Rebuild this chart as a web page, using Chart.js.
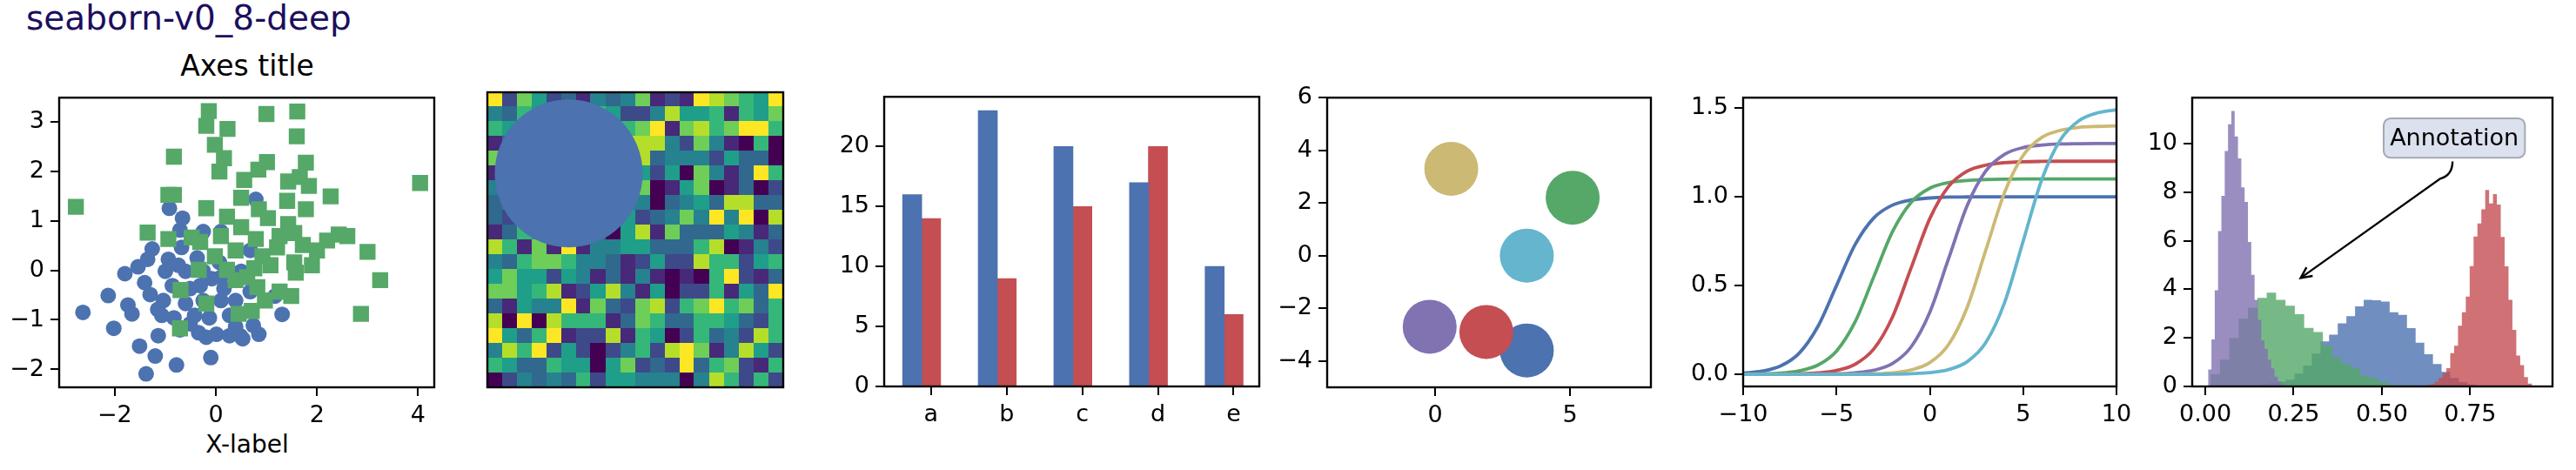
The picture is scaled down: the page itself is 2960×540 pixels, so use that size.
<!DOCTYPE html>
<html>
<head>
<meta charset="utf-8">
<script src="https://cdn.jsdelivr.net/npm/chart.js@4"></script>
<style>
  body { margin: 0; background: #fff; width: 2960px; height: 540px; position: relative; overflow: hidden; font-family: "DejaVu Sans", sans-serif; }
  canvas { position: absolute; }
  .txt { position: absolute; white-space: nowrap; color: #000; }
</style>
</head>
<body>
<div class="txt" style="left:30px;top:-2px;font-size:39px;color:#1b0f5e">seaborn-v0_8-deep</div>
<div class="txt" style="left:284px;top:56px;font-size:33px;transform:translateX(-50%)">Axes title</div>
<div class="txt" style="left:284px;top:494px;font-size:28px;transform:translateX(-50%)">X-label</div>
<canvas id="c1"></canvas>
<canvas id="c2"></canvas>
<canvas id="c3"></canvas>
<canvas id="c4"></canvas>
<canvas id="c5"></canvas>
<canvas id="c6"></canvas>
<script>
// ===== DATOS =====
// scatter
const blueX = [-2.63,-2.13,-2.02,-1.80,-1.54,-1.35,-1.26,-1.41,-1.74,-1.66,-1.51,-1.38,-1.20,-1.14,-1.30,-1.04,-0.94,-1.0,-0.92,-0.66,-0.71,-0.68,-0.78,-0.71,-1.07,-0.86,-0.60,-0.51,-0.37,-0.25,-0.31,-0.42,-0.34,-0.19,-0.10,0.01,-0.08,0.07,0.10,0.10,0.27,0.39,0.48,0.74,0.85,0.39,0.68,0.79,0.68,0.50,1.17,1.31,-0.60,-0.25,-0.13,-0.51,-0.83,-1.15,0.16,0.27,0.53,-0.25,-0.74,0.10];
const blueY = [-0.85,-0.51,-1.17,-0.07,0.07,0.22,0.43,-0.25,-0.70,-0.88,-1.53,-2.09,-1.73,-1.32,-0.49,-0.61,0.22,-0.02,1.25,1.05,0.81,0.46,-1.91,-1.20,-0.91,-0.31,-0.02,-0.37,0.25,0.78,-0.31,-0.91,-1.26,-1.35,-1.76,-1.29,-0.17,0.16,0.78,-0.61,-0.91,-1.14,-1.32,-1.11,-1.29,-0.61,-0.43,1.43,0.40,-0.02,-0.52,-0.89,-0.67,-0.61,-0.96,-1.08,-0.96,-0.79,-0.37,-1.32,-1.38,-0.02,0.10,-0.14];
const greenX = [-2.77,-1.35,-0.94,-0.83,-0.94,-0.83,-0.19,-0.14,-0.19,0.23,-0.02,0.16,0.07,1.0,1.61,1.6,1.78,1.01,0.84,0.56,1.43,1.66,1.84,4.04,2.27,0.50,1.41,1.78,0.85,0.22,1.03,1.43,0.50,-0.48,-0.31,0.10,0.79,1.26,1.55,2.20,2.43,2.60,3.00,1.72,2.0,1.21,0.92,0.39,-0.02,1.55,1.90,1.58,0.76,0.22,-0.34,0.39,3.25,0.82,1.26,1.49,0.97,-0.70,-0.19,0.71,0.45,2.87,-0.71,0.62,1.08];
const greenY = [1.28,0.76,0.63,2.29,1.52,1.52,1.25,3.21,2.91,2.85,2.53,2.26,1.99,3.15,3.2,2.70,2.17,2.18,2.03,1.82,1.79,1.88,1.70,1.76,1.49,1.46,1.40,1.23,1.23,1.08,1.05,0.93,0.87,0.66,0.57,0.69,0.63,0.69,0.75,0.60,0.72,0.69,0.37,0.51,0.40,0.46,0.28,0.40,0.28,0.16,0.10,-0.05,0.04,0.01,0.01,-0.20,-0.20,-0.34,-0.43,-0.52,-0.61,-0.40,-0.67,-0.82,-0.88,-0.88,-1.17,-0.14,0.10];

// imagen 20x20 (niveles 0-9 de viridis)
const imgRows = [
  [9,2,7,5,2,3,1,4,3,4,7,1,2,1,9,8,7,6,5,9],
  [4,3,6,5,6,5,4,6,5,2,2,4,8,5,5,6,1,6,5,7],
  [6,5,5,4,6,7,5,6,5,6,7,9,1,7,8,6,7,9,9,6],
  [1,3,5,6,4,7,3,5,6,8,8,8,4,2,7,4,1,0,6,0],
  [7,5,4,3,6,5,4,7,6,5,8,3,4,4,4,2,5,3,3,0],
  [1,4,6,3,5,2,6,4,5,6,5,2,5,0,7,4,1,3,9,6],
  [4,5,3,7,4,6,5,3,6,4,7,0,1,5,7,0,1,3,0,2],
  [3,4,6,5,2,7,4,6,5,4,4,0,3,4,5,3,8,8,3,3],
  [3,2,5,4,6,3,5,7,4,5,2,3,4,7,4,9,4,9,0,8],
  [1,3,6,5,4,6,4,3,0,5,8,1,7,3,3,3,5,4,1,3],
  [8,6,1,7,1,9,1,4,4,5,5,3,3,3,6,8,0,1,4,2],
  [4,3,6,7,7,6,4,4,3,1,2,5,2,2,8,6,6,2,5,6],
  [5,7,5,5,2,5,4,1,3,1,4,1,0,1,0,6,9,2,1,3],
  [7,7,5,6,8,1,2,5,8,4,1,5,0,2,2,6,1,5,3,9],
  [3,1,5,4,4,9,1,7,3,2,7,8,2,6,7,9,6,7,3,6],
  [8,0,9,0,8,6,6,6,1,3,7,6,3,3,6,6,5,3,2,6],
  [9,5,3,6,9,1,2,2,8,1,6,5,0,2,6,3,4,2,8,6],
  [4,8,6,9,2,5,2,0,2,4,6,2,8,9,7,1,4,8,5,2],
  [6,5,3,3,6,5,5,0,5,7,2,3,2,9,3,6,7,2,1,6],
  [0,2,4,3,4,3,6,2,5,5,4,4,4,0,4,8,6,2,6,2]
];
const imgCircle = { x: 5, y: 5, r: 5 };

// barras
const barCats = ['a', 'b', 'c', 'd', 'e'];
const barPos = [0, 1, 2, 3, 4];
const bars1 = [16, 23, 20, 17, 10];
const bars2 = [14, 9, 15, 20, 6];

// círculos
const circX = [3.4, 5.1, 1.9, -0.2, 0.6, 3.4];
const circY = [-3.6, 2.2, -2.9, -2.7, 3.3, 0.0];

// curvas
const lineX = [-10,-9,-8,-7,-6,-5,-4,-3,-2,-1,0,1,2,3,4,5,6,7,8,9,10];
const line1 = [0.007,0.018,0.047,0.119,0.269,0.5,0.731,0.881,0.953,0.982,0.993,0.998,0.999,1,1,1,1,1,1,1,1];
const line2 = [0.001,0.003,0.007,0.020,0.052,0.131,0.296,0.55,0.804,0.969,1.048,1.080,1.092,1.097,1.099,1.1,1.1,1.1,1.1,1.1,1.1];
const line3 = [0,0,0.001,0.003,0.008,0.022,0.057,0.143,0.323,0.6,0.877,1.057,1.144,1.178,1.192,1.197,1.199,1.2,1.2,1.2,1.2];
const line4 = [0,0,0,0,0.001,0.003,0.009,0.023,0.061,0.155,0.35,0.65,0.95,1.145,1.239,1.277,1.291,1.297,1.299,1.3,1.3];
const line5 = [0,0,0,0,0,0,0.001,0.003,0.009,0.025,0.066,0.167,0.377,0.7,1.023,1.233,1.334,1.374,1.391,1.396,1.399];
const line6 = [0,0,0,0,0,0,0,0,0.001,0.004,0.010,0.027,0.071,0.179,0.403,0.75,1.097,1.321,1.429,1.473,1.49];

// histogramas (bordes de bins y alturas)
const histBlueEdges = [0.13,0.1545,0.179,0.2035,0.228,0.2525,0.277,0.3015,0.326,0.3505,0.375,0.3995,0.424,0.4485,0.473,0.4975,0.522,0.5465,0.571,0.5955,0.62,0.6445,0.669,0.6935,0.718,0.7425,0.767,0.7915,0.816];
const histBlue = [0.02,0.05,0.1,0.15,0.2,0.28,0.53,0.86,1.35,1.86,2.13,2.6,2.9,3.3,3.57,3.55,3.5,3.06,2.95,2.4,1.8,1.33,0.92,0.6,0.35,0.18,0.08,0.03];
const histGreenEdges = [0.015,0.0415,0.068,0.0945,0.121,0.1475,0.174,0.2005,0.227,0.2535,0.28,0.3065,0.333,0.3595,0.386,0.4125,0.439,0.4655,0.492,0.5185,0.545,0.5715,0.598];
const histGreen = [0.1,0.5,1.1,2.0,2.8,3.25,3.65,3.86,3.57,3.33,2.98,2.41,2.24,1.68,1.2,0.92,0.74,0.45,0.33,0.18,0.07,0.02];
const histRedEdges = [0.6275,0.6385,0.6495,0.6605,0.6715,0.6825,0.6935,0.7045,0.7155,0.7265,0.7375,0.7485,0.7595,0.7705,0.7815,0.7925,0.8035,0.8145,0.8255,0.8365,0.8475,0.8585,0.8695,0.8805,0.8915,0.9025,0.9135,0.9245,0.9355];
const histRed = [0.03,0.06,0.1,0.2,0.35,0.55,0.75,1.37,1.68,2.5,3.06,3.7,4.96,6.18,6.72,7.3,8.1,7.54,7.93,7.5,6.16,4.95,3.57,2.33,1.27,0.88,0.39,0.12];
const histPurpleEdges = [0.008,0.0174,0.0268,0.0362,0.0456,0.055,0.0644,0.0738,0.0832,0.0926,0.102,0.1114,0.1208,0.1302,0.1396,0.149,0.1584,0.1678,0.1772,0.1866,0.196,0.2054,0.2148,0.2242,0.2336,0.243];
const histPurple = [0.07,0.7,1.94,3.96,6.4,7.85,9.7,10.8,11.35,10.3,9.4,8.2,7.6,5.95,4.6,3.57,2.74,1.9,1.55,1.1,0.74,0.4,0.2,0.1,0.04];

// ===== ESTILO =====
const C = { blue: '#4C72B0', green: '#55A868', red: '#C44E52', purple: '#8172B2', yellow: '#CCB974', cyan: '#64B5CD' };
const VIRIDIS = ['#440154','#482878','#3e4989','#31688e','#26828e','#1f9e89','#35b779','#6ece58','#b5de2b','#fde725'];
const FONT = '"DejaVu Sans", sans-serif';
const TICK_SIZE = 27;
const minus = v => String(v).replace('-', '\u2212');

Chart.register({
    id: 'frame',
    afterDatasetsDraw(chart) {
        const a = chart.chartArea, ctx = chart.ctx;
        ctx.save();
        ctx.strokeStyle = '#000';
        ctx.lineWidth = 2.4;
        ctx.strokeRect(a.left, a.top, a.right - a.left, a.bottom - a.top);
        ctx.restore();
    }
});

function axis(min, max, ticks, fmt, extra) {
    return Object.assign({
        type: 'linear', min, max, offset: false,
        afterBuildTicks: s => { s.ticks = ticks.map(v => ({ value: v })); },
        ticks: { color: '#000', font: { family: FONT, size: TICK_SIZE }, padding: 7, maxRotation: 0, autoSkip: false, callback: fmt },
        grid: { drawOnChartArea: false, offset: false, color: '#000', lineWidth: 2, tickLength: 10 },
        border: { display: false }
    }, extra || {});
}

// coloca el canvas para que el área de ejes caiga en (l,t,r,b)
function panel(id, box, cfg) {
    const yW = 95, xH = 64, pt = 18, pr = 26;
    const cv = document.getElementById(id);
    cv.style.left = (box[0] - yW) + 'px';
    cv.style.top = (box[1] - pt) + 'px';
    cv.width = box[2] - box[0] + yW + pr;
    cv.height = box[3] - box[1] + pt + xH;
    cfg.options = Object.assign({
        responsive: false, animation: false, devicePixelRatio: 1,
        layout: { padding: { top: pt, right: pr, left: 0, bottom: 0 } },
        plugins: { legend: { display: false }, tooltip: { enabled: false } }
    }, cfg.options);
    cfg.options.scales.x.afterFit = s => { s.height = xH; };
    cfg.options.scales.y.afterFit = s => { s.width = yW; };
    return new Chart(cv.getContext('2d'), cfg);
}

// ===== PANEL 1: scatter =====
panel('c1', [68, 107, 499, 445], {
    type: 'scatter',
    data: { datasets: [
        { data: greenX.map((x, i) => ({ x, y: greenY[i] })), pointStyle: 'rect', pointRadius: 13, backgroundColor: C.green, borderWidth: 0, clip: 0 },
        { data: blueX.map((x, i) => ({ x, y: blueY[i] })), pointStyle: 'circle', pointRadius: 9, backgroundColor: C.blue, borderWidth: 0, clip: 0 }
    ] },
    options: { scales: {
        x: axis(-3.10, 4.32, [-2, 0, 2, 4], minus),
        y: axis(-2.36, 3.48, [-2, -1, 0, 1, 2, 3], minus)
    } }
});

// ===== PANEL 2: imagen + círculo =====
(function () {
    const cv = document.getElementById('c2');
    const pad = 3;
    cv.style.left = (560 - pad) + 'px';
    cv.style.top = (106 - pad) + 'px';
    cv.width = 340 + 2 * pad;
    cv.height = 339 + 2 * pad;
    new Chart(cv.getContext('2d'), {
        type: 'scatter',
        data: { datasets: [{ data: [], pointRadius: 0 }] },
        options: {
            responsive: false, animation: false, devicePixelRatio: 1,
            layout: { padding: pad },
            plugins: { legend: { display: false }, tooltip: { enabled: false } },
            scales: {
                x: { type: 'linear', min: -0.5, max: 19.5, display: false },
                y: { type: 'linear', min: -0.5, max: 19.5, reverse: true, display: false }
            }
        },
        plugins: [{
            id: 'matrix',
            beforeDatasetsDraw(chart) {
                const ctx = chart.ctx, sx = chart.scales.x, sy = chart.scales.y;
                imgRows.forEach((row, r) => row.forEach((v, c) => {
                    const x0 = sx.getPixelForValue(c - 0.5), x1 = sx.getPixelForValue(c + 0.5);
                    const y0 = sy.getPixelForValue(r - 0.5), y1 = sy.getPixelForValue(r + 0.5);
                    ctx.fillStyle = VIRIDIS[v];
                    ctx.fillRect(Math.floor(x0), Math.floor(y0), Math.ceil(x1 - x0) + 1, Math.ceil(y1 - y0) + 1);
                }));
                const cx = sx.getPixelForValue(imgCircle.x), cy = sy.getPixelForValue(imgCircle.y);
                const rr = Math.abs(sx.getPixelForValue(imgCircle.x + imgCircle.r) - cx);
                ctx.fillStyle = C.blue;
                ctx.beginPath(); ctx.arc(cx, cy, rr, 0, 2 * Math.PI); ctx.fill();
            }
        }]
    });
})();

// ===== PANEL 3: barras =====
panel('c3', [1016, 106, 1447, 444], {
    type: 'bar',
    data: { datasets: [
        { data: barPos.map((x, i) => ({ x, y: bars1[i] })), backgroundColor: C.blue, barThickness: 22, grouped: false },
        { data: barPos.map((x, i) => ({ x: x + 0.25, y: bars2[i] })), backgroundColor: C.red, barThickness: 22, grouped: false }
    ] },
    options: { scales: {
        x: axis(-0.37, 4.59, barPos.map(x => x + 0.25), (v, i) => barCats[i]),
        y: axis(0, 24.15, [0, 5, 10, 15, 20], minus)
    } }
});

// ===== PANEL 4: círculos =====
panel('c4', [1525, 107, 1897, 445], {
    type: 'scatter',
    data: { datasets: [{
        data: circX.map((x, i) => ({ x, y: circY[i] })),
        backgroundColor: [C.blue, C.green, C.red, C.purple, C.yellow, C.cyan],
        borderWidth: 0,
        pointRadius: c => { const s = c.chart.scales.x; return Math.abs(s.getPixelForValue(1) - s.getPixelForValue(0)); }
    }] },
    options: { scales: {
        x: axis(-4, 8, [0, 5], minus),
        y: axis(-5, 6, [-4, -2, 0, 2, 4, 6], minus)
    } }
});

// ===== PANEL 5: curvas =====
const lineSets = [[line1, C.blue], [line2, C.green], [line3, C.red], [line4, C.purple], [line5, C.yellow], [line6, C.cyan]];
panel('c5', [2003, 107, 2432, 444], {
    type: 'line',
    data: { datasets: lineSets.slice().reverse().map(([ys, col]) => ({
        data: lineX.map((x, i) => ({ x, y: ys[i] })),
        borderColor: col, borderWidth: 3.8, pointRadius: 0, cubicInterpolationMode: 'monotone', fill: false
    })) },
    options: { scales: {
        x: axis(-10, 10, [-10, -5, 0, 5, 10], minus),
        y: axis(-0.068, 1.558, [0, 0.5, 1, 1.5], v => v.toFixed(1))
    } }
});

// ===== PANEL 6: histogramas =====
function hist(edges, h, col) {
    const ys = h.concat([0]);
    return { data: edges.map((x, i) => ({ x, y: ys[i] })), stepped: 'after', fill: 'origin', borderWidth: 0, pointRadius: 0, backgroundColor: col };
}
panel('c6', [2519, 107, 2933, 444], {
    type: 'line',
    data: { datasets: [
        hist(histPurpleEdges, histPurple, 'rgba(129,114,178,0.8)'),
        hist(histRedEdges, histRed, 'rgba(196,78,82,0.8)'),
        hist(histGreenEdges, histGreen, 'rgba(85,168,104,0.8)'),
        hist(histBlueEdges, histBlue, 'rgba(76,114,176,0.8)')
    ] },
    options: { scales: {
        x: axis(-0.037, 0.983, [0, 0.25, 0.5, 0.75], v => v.toFixed(2)),
        y: axis(0, 11.9, [0, 2, 4, 6, 8, 10], minus)
    } },
    plugins: [{
        id: 'annot',
        afterDatasetsDraw(chart) {
            const ctx = chart.ctx, sx = chart.scales.x, sy = chart.scales.y;
            const px = v => sx.getPixelForValue(v), py = v => sy.getPixelForValue(v);
            // flecha
            const x0 = px(0.70), y0 = py(9.27), xb = px(0.665), yb = py(8.56), x1 = px(0.27), y1 = py(4.47);
            ctx.save();
            ctx.strokeStyle = '#000'; ctx.lineWidth = 2.4;
            ctx.beginPath(); ctx.moveTo(x0, y0); ctx.quadraticCurveTo(x0, yb - 4, xb, yb); ctx.lineTo(x1, y1); ctx.stroke();
            const ang = Math.atan2(y1 - yb, x1 - xb), L = 14;
            ctx.beginPath();
            ctx.moveTo(x1 - L * Math.cos(ang - 0.45), y1 - L * Math.sin(ang - 0.45));
            ctx.lineTo(x1, y1);
            ctx.lineTo(x1 - L * Math.cos(ang + 0.45), y1 - L * Math.sin(ang + 0.45));
            ctx.stroke();
            // caja
            const bx0 = px(0.505), bx1 = px(0.905), by0 = py(11.05), by1 = py(9.42);
            ctx.fillStyle = '#dbe1ee'; ctx.strokeStyle = '#a6a9b3'; ctx.lineWidth = 2;
            ctx.beginPath(); ctx.roundRect(bx0, by0, bx1 - bx0, by1 - by0, 8); ctx.fill(); ctx.stroke();
            ctx.fillStyle = '#000'; ctx.font = '27px ' + FONT; ctx.textAlign = 'center'; ctx.textBaseline = 'middle';
            ctx.fillText('Annotation', (bx0 + bx1) / 2, (by0 + by1) / 2 + 1);
            ctx.restore();
        }
    }]
});
</script>
</body>
</html>
